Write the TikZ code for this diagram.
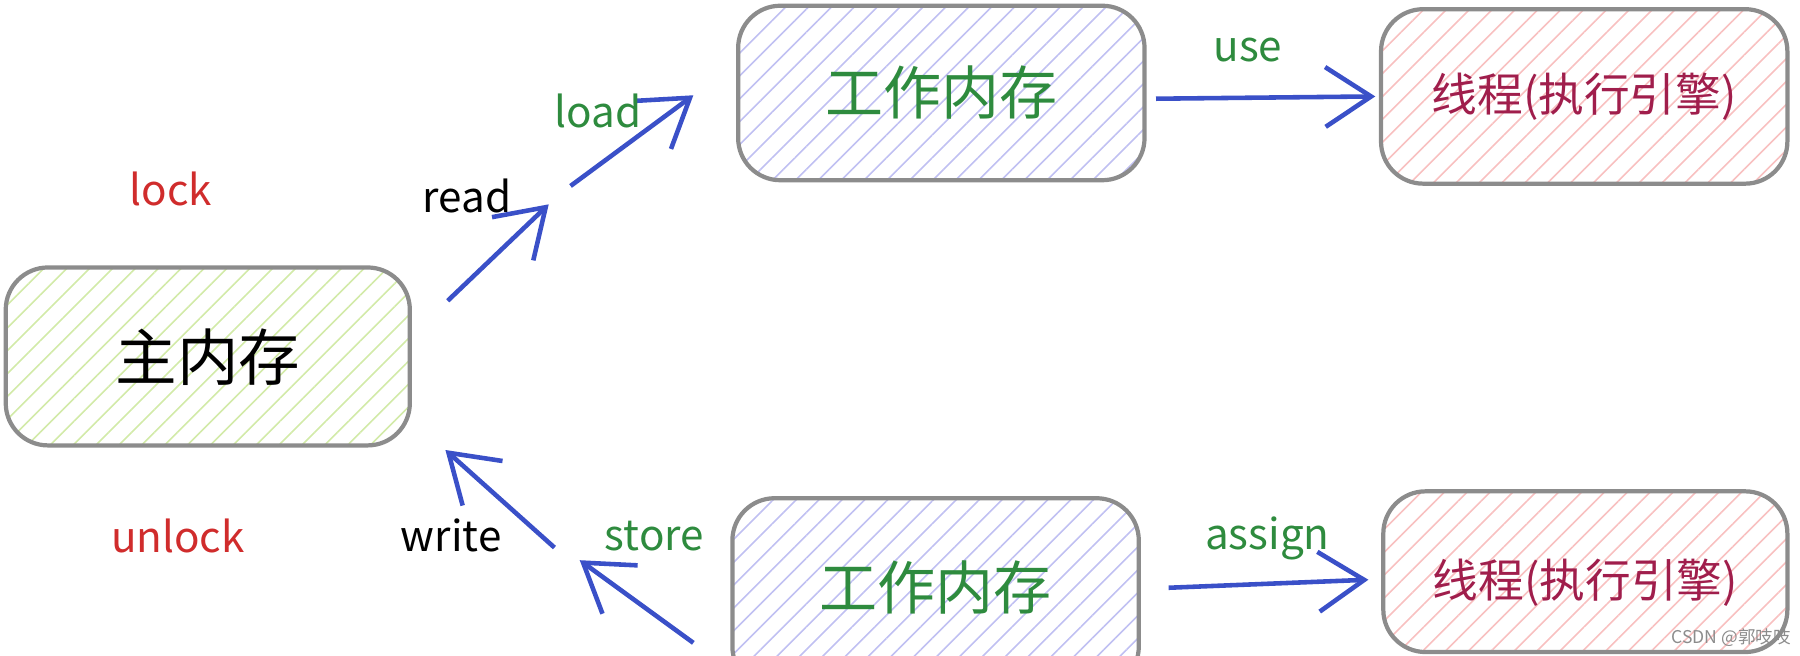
\documentclass[tikz,border=0pt]{standalone}
\usepackage{fontspec}
\setmainfont{Noto Sans CJK SC}
\usetikzlibrary{arrows.meta, patterns.meta}
\definecolor{hgreen}{HTML}{D2EAA8}
\definecolor{hblue}{HTML}{C0C0F2}
\definecolor{hred}{HTML}{F8C0C0}
\definecolor{tgreen}{HTML}{2E8B3E}
\definecolor{tred}{HTML}{D02C2C}
\definecolor{tcrim}{HTML}{A01E4C}
\definecolor{ablue}{HTML}{3A50C8}
\tikzset{
  % memory boxes
  membox/.style={draw=black!45, line width=1.2pt, rounded corners=12pt,
    pattern={Lines[angle=45, distance=4.6pt, line width=0.45pt]}},
  % arrows
  op/.style={ablue, line width=1.3pt,
    -{Straight Barb[length=13pt, width=17pt, line width=1.3pt]}},
  lbl/.style={font=\fontsize{12}{14}\selectfont},
}
\begin{document}
\begin{tikzpicture}[x=0.01148cm, y=-0.01148cm]
  \useasboundingbox (0,0) rectangle (1568,571);
  \begin{scope}
    \clip (0,0) rectangle (1568,571);
    \draw[membox, pattern color=hgreen] (5,233) rectangle (357,388);
    \draw[membox, pattern color=hblue] (643,5) rectangle (997,157);
    \draw[membox, pattern color=hred] (1203,8) rectangle (1557,160);
    \draw[membox, pattern color=hblue] (638,434) rectangle (992,600);
    \draw[membox, pattern color=hred] (1205,428) rectangle (1557,568);
  \end{scope}
  \node[font=\fontsize{17.5}{20}\selectfont] (main) at (181,311) {主内存};
  \node[font=\fontsize{16.5}{20}\selectfont, text=tgreen] (work1) at (820,81) {工作内存};
  \node[font=\fontsize{13}{16}\selectfont, text=tcrim] (thread1) at (1380,84) {线程(执行引擎)};
  \node[font=\fontsize{16.5}{20}\selectfont, text=tgreen] (work2) at (815,512) {工作内存};
  \node[font=\fontsize{13}{16}\selectfont, text=tcrim] (thread2) at (1381,508) {线程(执行引擎)};

  \coordinate (r0) at (390,262);
  \coordinate (r1) at (478,178);
  \coordinate (l0) at (497,162);
  \coordinate (l1) at (604,83);
  \coordinate (u0) at (1007,86);
  \coordinate (u1) at (1198,84);
  \coordinate (w0) at (483,477);
  \coordinate (w1) at (388,392);
  \coordinate (s0) at (604,560);
  \coordinate (s1) at (505,488);
  \coordinate (a0) at (1018,512);
  \coordinate (a1) at (1192,505);
  \draw[op] (r0) -- (r1);
  \draw[op] (l0) -- (l1);
  \draw[op] (u0) -- (u1);
  \draw[op] (w0) -- (w1);
  \draw[op] (s0) -- (s1);
  \draw[op] (a0) -- (a1);

  \node[lbl, text=tred] (lock) at (149,165) {lock};
  \node[lbl, text=tred] (unlock) at (155,467) {unlock};
  \node[lbl] (read) at (407,171) {read};
  \node[lbl, text=tgreen] (load) at (521,97) {load};
  \node[lbl, text=tgreen] (use) at (1087,44) {use};
  \node[lbl] (write) at (393,466) {write};
  \node[lbl, text=tgreen] (store) at (570,467) {store};
  \node[lbl, text=tgreen] (assign) at (1104,469) {assign};
  \node[font=\fontsize{5}{6}\selectfont, text=black!45] (mark) at (1508,555) {CSDN @郭吱吱};
\end{tikzpicture}
\end{document}
